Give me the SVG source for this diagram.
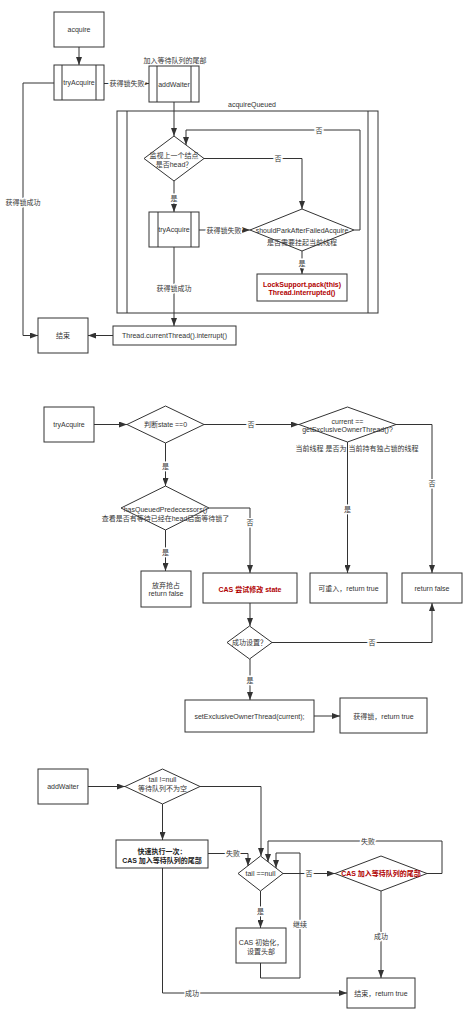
<svg xmlns="http://www.w3.org/2000/svg" width="474" height="1021" viewBox="0 0 474 1021">
<style>
.b{fill:#fff;stroke:#333;stroke-width:1}
.l{fill:none;stroke:#333;stroke-width:1}
.c{fill:none;stroke:#333;stroke-width:1;marker-end:url(#ah)}
text{font-family:"Liberation Sans","Noto Sans CJK SC",sans-serif;font-size:7px;fill:#333;text-anchor:middle}
.lb{stroke:#fff;stroke-width:3;paint-order:stroke;stroke-linejoin:round}
.r{fill:#b00000;font-weight:bold}
.k{font-weight:bold;fill:#222}
</style>
<defs>
<marker id="ah" markerUnits="userSpaceOnUse" markerWidth="8" markerHeight="6" refX="8" refY="3" orient="auto">
<path d="M0,0 L8,3 L0,6 z" fill="#333"/>
</marker>
</defs>
<rect width="474" height="1021" fill="#fff"/>

<!-- ===== Section 1: acquire ===== -->
<g id="acquireQueued">
<rect class="b" x="117" y="111" width="261" height="202"/>
<line class="l" x1="127" y1="111" x2="127" y2="313"/>
<line class="l" x1="368" y1="111" x2="368" y2="313"/>
<text x="252" y="106.5">acquireQueued</text>
</g>
<g id="acquire">
<rect class="b" x="54" y="12" width="50" height="35"/>
<text x="79" y="32">acquire</text>
</g>
<g id="tryAcquire1">
<rect class="b" x="54" y="65" width="50" height="35"/>
<line class="l" x1="62" y1="65" x2="62" y2="100"/>
<line class="l" x1="96" y1="65" x2="96" y2="100"/>
<text x="79" y="85">tryAcquire</text>
</g>
<g id="addWaiter1">
<rect class="b" x="149" y="66" width="50" height="36"/>
<line class="l" x1="157" y1="66" x2="157" y2="102"/>
<line class="l" x1="191" y1="66" x2="191" y2="102"/>
<text x="174" y="86.5">addWaiter</text>
<text x="175" y="62.5">加入等待队列的尾部</text>
</g>
<g id="checkHead">
<polygon class="b" points="174,136 204,158.5 174,181 144,158.5"/>
<text x="174" y="157.5">监视上一个结点</text>
<text x="174" y="166.5">是否head？</text>
</g>
<g id="tryAcquire2">
<rect class="b" x="149" y="212" width="50" height="35"/>
<line class="l" x1="158" y1="212" x2="158" y2="247"/>
<line class="l" x1="191" y1="212" x2="191" y2="247"/>
<text x="174" y="232">tryAcquire</text>
</g>
<g id="shouldPark">
<polygon class="b" points="302,209 354,230 302,251 250,230"/>
<text x="302" y="233">shouldParkAfterFailedAcquire</text>
<text x="302" y="245">是否需要挂起当前线程</text>
</g>
<g id="lockSupport">
<rect class="b" x="257" y="274" width="90" height="27"/>
<text class="r" x="302" y="287">LockSupport.pack(this)</text>
<text class="r" x="302" y="295">Thread.interrupted()</text>
</g>
<g id="threadInterrupt">
<rect class="b" x="113" y="326" width="123" height="19"/>
<text x="174.5" y="338">Thread.currentThread().interrupt()</text>
</g>
<g id="end1">
<rect class="b" x="38" y="318" width="50" height="35"/>
<text x="63" y="338">结束</text>
</g>

<!-- ===== Section 2: tryAcquire ===== -->
<g id="tryAcquire3">
<rect class="b" x="44" y="407" width="50" height="35"/>
<text x="69" y="427">tryAcquire</text>
</g>
<g id="stateZero">
<polygon class="b" points="165.5,406 204,424.5 165.5,443 127,424.5"/>
<text x="165.5" y="427">判断state ==0</text>
</g>
<g id="currentOwner">
<polygon class="b" points="347.5,407 396,424.5 347.5,442 299,424.5"/>
<text x="347.5" y="424">current ==</text>
<text x="347.5" y="431.5">getExclusiveOwnerThread()?</text>
<text x="357" y="450.5">当前线程 是否为 当前持有独占锁的线程</text>
</g>
<g id="hasQueued">
<polygon class="b" points="165.5,486 209,508 165.5,530 121,508"/>
<text x="165.5" y="511.5">hasQueuedPredecessors()</text>
<text x="165.5" y="520.5">查看是否有等待已经在head后面等待锁了</text>
</g>
<g id="giveUp">
<rect class="b" x="141" y="571" width="50" height="36"/>
<text x="166" y="587.5">放弃抢占</text>
<text x="166" y="595.5">return false</text>
</g>
<g id="casState">
<rect class="b" x="203" y="573" width="94" height="30"/>
<text class="r" x="250" y="591.5">CAS 尝试修改 state</text>
</g>
<g id="reentrant">
<rect class="b" x="310" y="573" width="77" height="30"/>
<text x="348.5" y="590.5">可重入，return true</text>
</g>
<g id="returnFalse">
<rect class="b" x="402" y="573" width="60" height="30"/>
<text x="432" y="590.5">return false</text>
</g>
<g id="setSuccess">
<polygon class="b" points="249.5,626 272,642.5 249.5,659 227,642.5"/>
<text x="249.5" y="645">成功设置？</text>
</g>
<g id="setOwner">
<rect class="b" x="185" y="700" width="129" height="32"/>
<text x="249.5" y="718.5">setExclusiveOwnerThread(current);</text>
</g>
<g id="gotLock">
<rect class="b" x="340" y="698" width="87" height="35"/>
<text x="383.5" y="718.5">获得锁，return true</text>
</g>

<!-- ===== Section 3: addWaiter ===== -->
<g id="addWaiter2">
<rect class="b" x="38" y="769" width="50" height="35"/>
<text x="63" y="789">addWaiter</text>
</g>
<g id="tailNotNull">
<polygon class="b" points="162.5,769 200,786.5 162.5,804 125,786.5"/>
<text x="162.5" y="781.5">tail !=null</text>
<text x="162.5" y="790.5">等待队列不为空</text>
</g>
<g id="fastPath">
<rect class="b" x="116" y="840" width="92" height="28"/>
<text class="k" x="162" y="853.5">快速执行一次：</text>
<text class="k" x="162" y="862.5">CAS 加入等待队列的尾部</text>
</g>
<g id="tailNull">
<polygon class="b" points="260.5,856 283,873.5 260.5,891 238,873.5"/>
<text x="260.5" y="876">tail ==null</text>
</g>
<g id="casTail">
<polygon class="b" points="381,856 427,873.5 381,891 335,873.5"/>
<text class="r" x="381" y="876">CAS 加入等待队列的尾部</text>
</g>
<g id="casInit">
<rect class="b" x="236" y="928" width="50" height="35"/>
<text x="261" y="944.5">CAS 初始化，</text>
<text x="261" y="953.5">设置头部</text>
</g>
<g id="end2">
<rect class="b" x="347" y="978" width="68" height="30"/>
<text x="381" y="995.5">结束，return true</text>
</g>

<g id="connectors">
<!-- section 1 -->
<path class="c" d="M79,47 L79,65"/>
<path class="c" d="M104,83.5 L149,83.5"/>
<path class="c" d="M54,83 L23,83 L23,335.5 L38,335.5"/>
<path class="c" d="M174,102 L174,136"/>
<path class="c" d="M204,158.5 L302,158.5 L302,209"/>
<path class="c" d="M354,230 L360,230 L360,130 L186,130 L186,145"/>
<path class="c" d="M174,181 L174,212"/>
<path class="c" d="M199,230 L250,230"/>
<path class="c" d="M302,251 L302,274"/>
<path class="c" d="M174,247 L174,326"/>
<path class="c" d="M113,335.5 L88,335.5"/>
<!-- section 2 -->
<path class="c" d="M94,424.5 L127,424.5"/>
<path class="c" d="M204,424.5 L299,424.5"/>
<path class="c" d="M347.5,442 L347.5,573"/>
<path class="c" d="M396,424.5 L432,424.5 L432,573"/>
<path class="c" d="M165.5,443 L165.5,486"/>
<path class="c" d="M209,508 L250,508 L250,573"/>
<path class="c" d="M165.5,530 L165.5,571"/>
<path class="c" d="M250,603 L250,626"/>
<path class="c" d="M272,642.5 L432,642.5 L432,603"/>
<path class="c" d="M250,659 L250,700"/>
<path class="c" d="M314,716 L340,716"/>
<!-- section 3 -->
<path class="c" d="M88,786.5 L125,786.5"/>
<path class="c" d="M200,786.5 L261,786.5 L261,856"/>
<path class="c" d="M162.5,804 L162.5,840"/>
<path class="c" d="M208,853.5 L248,853.5 L248,866"/>
<path class="c" d="M283,873.5 L335,873.5"/>
<path class="c" d="M427,873.5 L442,873.5 L442,841 L268,841 L268,862"/>
<path class="c" d="M260.5,891 L260.5,928"/>
<path class="c" d="M260.5,963 L260.5,978 L300,978 L300,853 L276,853 L276,868"/>
<path class="c" d="M162.5,868 L162.5,993 L347,993"/>
<path class="c" d="M381,891 L381,978"/>
<!-- labels -->
<text class="lb" x="127" y="86">获得锁失败</text>
<text class="lb" x="23" y="204.5">获得锁成功</text>
<text class="lb" x="278" y="161">否</text>
<text class="lb" x="319" y="132.5">否</text>
<text class="lb" x="174" y="200.5">是</text>
<text class="lb" x="224" y="232.5">获得锁失败</text>
<text class="lb" x="302" y="265.5">是</text>
<text class="lb" x="174" y="290.5">获得锁成功</text>
<text class="lb" x="251" y="427">否</text>
<text class="lb" x="347.5" y="511.5">是</text>
<text class="lb" x="432" y="485.5">否</text>
<text class="lb" x="165.5" y="468.5">是</text>
<text class="lb" x="250" y="524.5">否</text>
<text class="lb" x="165.5" y="554.5">是</text>
<text class="lb" x="372" y="645">否</text>
<text class="lb" x="250" y="682.5">是</text>
<text class="lb" x="233" y="856">失败</text>
<text class="lb" x="309" y="876">否</text>
<text class="lb" x="368" y="843.5">失败</text>
<text class="lb" x="260.5" y="913.5">是</text>
<text class="lb" x="300" y="926.5">继续</text>
<text class="lb" x="192" y="995.5">成功</text>
<text class="lb" x="381" y="938.5">成功</text>
</g>
</svg>
